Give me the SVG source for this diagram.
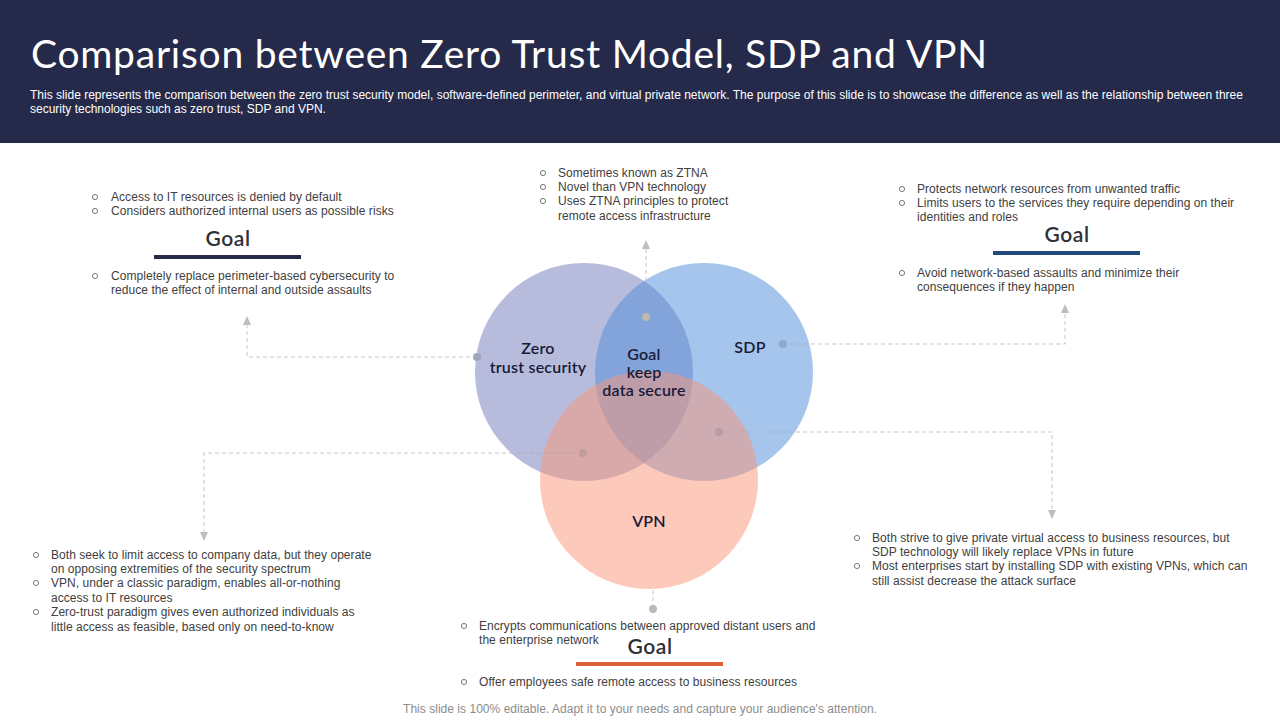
<svg xmlns="http://www.w3.org/2000/svg" width="1280" height="720" viewBox="0 0 1280 720">
<style>
.b{font:12px "Liberation Sans",Arial,sans-serif;fill:#404040;letter-spacing:.05px}
.o{fill:none;stroke:#595959;stroke-width:.8}
.g{font:600 21px "Lato",sans-serif;fill:#2f2f38;text-anchor:middle;letter-spacing:.6px}
.l{font:600 16px "Lato",sans-serif;fill:#171b38;text-anchor:middle;letter-spacing:.2px}
.c{fill:none;stroke:#a8a8a8;stroke-width:.8;stroke-dasharray:4 3;stroke-opacity:.8}
.a{fill:#bdbdbd}
</style>
<defs><circle id="u" r="2.6" class="o"/></defs>
<rect width="1280" height="143" fill="#262a4a"/>
<text id="title" x="31" y="68" font-family="Lato,sans-serif" font-size="39" fill="#fff" textLength="956" lengthAdjust="spacing">Comparison between Zero Trust Model, SDP and VPN</text>
<g font-family="Liberation Sans,Arial,sans-serif" font-size="12" fill="#fff">
<text x="30" y="99" textLength="1213">This slide represents the comparison between the zero trust security model, software-defined perimeter, and virtual private network. The purpose of this slide is to showcase the difference as well as the relationship between three</text>
<text x="30" y="113">security technologies such as zero trust, SDP and VPN.</text>
</g>
<g id="venn">
<circle id="zero" cx="584" cy="372" r="109" fill="#7179b9" fill-opacity=".5"/>
<circle id="sdp" cx="704" cy="372" r="109" fill="#4b8bd9" fill-opacity=".5"/>
<circle id="vpn" cx="649" cy="480" r="109" fill="#f99375" fill-opacity=".5"/>
</g>
<g id="connectors">
<path class="c" d="M477 357H247V324"/>
<path class="c" d="M646 316V248"/>
<path class="c" d="M783 344H1065V312"/>
<path class="c" d="M719 432H1052V511"/>
<path class="c" d="M583 453H204V533"/>
<path class="c" d="M653 608V590"/>
<path class="a" d="M247 316l4 9h-8z"/>
<path class="a" d="M646 240l4 9h-8z"/>
<path class="a" d="M1065 304l4 9h-8z"/>
<path class="a" d="M1052 519l4-9h-8z"/>
<path class="a" d="M204 541l4-9h-8z"/>
<circle cx="477" cy="357" r="4" fill="#a3a5bd"/>
<circle cx="646" cy="317" r="4" fill="#bcb9ac"/>
<circle cx="783" cy="344" r="4" fill="#8fa8cb"/>
<circle cx="719" cy="432" r="4" fill="#b99da3"/>
<circle cx="583" cy="453" r="4" fill="#c39d9d"/>
<circle cx="653" cy="609" r="4" fill="#b9b9b9"/>
</g>
<g id="labels">
<text class="l" x="538" y="354">Zero</text>
<text class="l" x="538" y="373">trust security</text>
<text class="l" x="750" y="353">SDP</text>
<text class="l" x="644" y="360">Goal</text>
<text class="l" x="644" y="378">keep</text>
<text class="l" x="644" y="396">data secure</text>
<text class="l" x="649" y="527">VPN</text>
</g>
<g id="zero-notes">
<use href="#u" x="95" y="197"/><text class="b" x="111" y="201">Access to IT resources is denied by default</text>
<use href="#u" x="95" y="211"/><text class="b" x="111" y="215">Considers authorized internal users as possible risks</text>
<text class="g" x="228" y="246">Goal</text><rect x="154" y="255" width="147" height="4" fill="#262a4a"/>
<use href="#u" x="95" y="276"/><text class="b" x="111" y="280">Completely replace perimeter-based cybersecurity to</text>
<text class="b" x="111" y="294">reduce the effect of internal and outside assaults</text>
</g>
<g id="ztna-notes">
<use href="#u" x="543" y="173"/><text class="b" x="558" y="177">Sometimes known as ZTNA</text>
<use href="#u" x="543" y="187"/><text class="b" x="558" y="191">Novel than VPN technology</text>
<use href="#u" x="543" y="201"/><text class="b" x="558" y="205">Uses ZTNA principles to protect</text>
<text class="b" x="558" y="220">remote access infrastructure</text>
</g>
<g id="sdp-notes">
<use href="#u" x="902" y="189"/><text class="b" x="917" y="193">Protects network resources from unwanted traffic</text>
<use href="#u" x="902" y="203"/><text class="b" x="917" y="207">Limits users to the services they require depending on their</text>
<text class="b" x="917" y="221">identities and roles</text>
<text class="g" x="1067" y="242">Goal</text><rect x="993" y="251" width="147" height="4" fill="#1f4a7a"/>
<use href="#u" x="902" y="273"/><text class="b" x="917" y="277">Avoid network-based assaults and minimize their</text>
<text class="b" x="917" y="291">consequences if they happen</text>
</g>
<g id="sdp-vpn-notes">
<use href="#u" x="857" y="538"/><text class="b" x="872" y="542">Both strive to give private virtual access to business resources, but</text>
<text class="b" x="872" y="556">SDP technology will likely replace VPNs in future</text>
<use href="#u" x="857" y="566"/><text class="b" x="872" y="570">Most enterprises start by installing SDP with existing VPNs, which can</text>
<text class="b" x="872" y="585">still assist decrease the attack surface</text>
</g>
<g id="zero-vpn-notes">
<use href="#u" x="36" y="555"/><text class="b" x="51" y="559">Both seek to limit access to company data, but they operate</text>
<text class="b" x="51" y="573">on opposing extremities of the security spectrum</text>
<use href="#u" x="36" y="583"/><text class="b" x="51" y="587">VPN, under a classic paradigm, enables all-or-nothing</text>
<text class="b" x="51" y="602">access to IT resources</text>
<use href="#u" x="36" y="612"/><text class="b" x="51" y="616">Zero-trust paradigm gives even authorized individuals as</text>
<text class="b" x="51" y="631">little access as feasible, based only on need-to-know</text>
</g>
<g id="vpn-notes">
<use href="#u" x="464" y="626"/><text class="b" x="479" y="630">Encrypts communications between approved distant users and</text>
<text class="b" x="479" y="644">the enterprise network</text>
<text class="g" x="650" y="654">Goal</text><rect x="576" y="662" width="147" height="4" fill="#e0603a"/>
<use href="#u" x="464" y="682"/><text class="b" x="479" y="686">Offer employees safe remote access to business resources</text>
</g>
<text id="footer" x="640" y="713" text-anchor="middle" font-family="Liberation Sans,Arial,sans-serif" font-size="12" letter-spacing=".03" fill="#8c8c8c">This slide is 100% editable. Adapt it to your needs and capture your audience's attention.</text>
</svg>
